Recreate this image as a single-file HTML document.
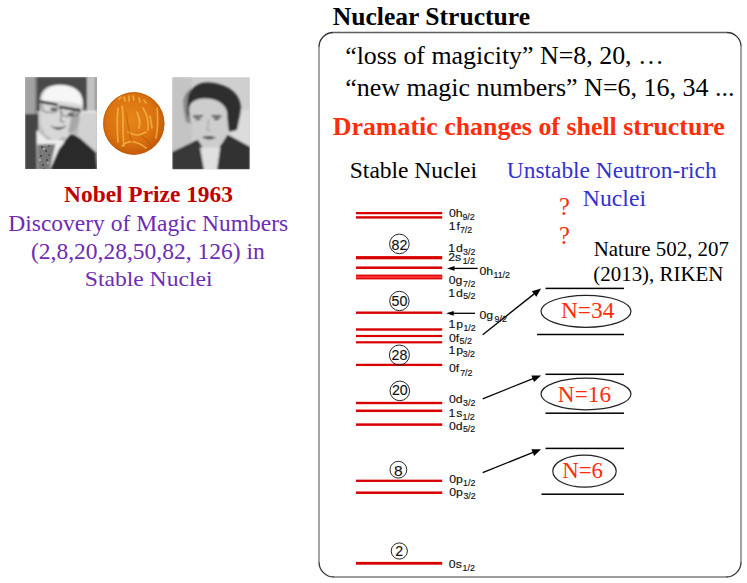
<!DOCTYPE html>
<html><head><meta charset="utf-8"><title>Nuclear Structure</title>
<style>
html,body{margin:0;padding:0;background:#fff;}
body{width:747px;height:583px;overflow:hidden;position:relative;}
svg{position:absolute;left:0;top:0;}
svg .s{font-family:'Liberation Sans',Arial,sans-serif;fill:#111;stroke:#111;stroke-width:0.15px;}
</style></head><body>
<svg width="747" height="583" viewBox="0 0 747 583">
<g fill="none">
<path d="M333.5 32.5 H727" stroke="#5e5e5e" stroke-width="1.5"/>
<path d="M741 46.5 V562" stroke="#9a9a9a" stroke-width="1.8"/>
<path d="M726 577 H334" stroke="#9c9c9c" stroke-width="1.8"/>
<path d="M319 562 V47" stroke="#9a9a9a" stroke-width="1.8"/>
<path d="M727 32.5 A14 14 0 0 1 741 46.5 M741 562 A15 15 0 0 1 726 577 M334 577 A15 15 0 0 1 319 562 M319 47 A14.5 14.5 0 0 1 333.5 32.5" stroke="#333" stroke-width="1.3"/>
</g>
<defs>
<filter id="bl1" x="-10%" y="-10%" width="120%" height="120%"><feGaussianBlur stdDeviation="1.1"/></filter>
<filter id="bl2" x="-10%" y="-10%" width="120%" height="120%"><feGaussianBlur stdDeviation="0.6"/></filter>
<clipPath id="cp1"><rect x="25" y="77" width="72" height="92"/></clipPath>
<clipPath id="cp2"><rect x="172.3" y="77.3" width="77.5" height="92"/></clipPath>
<radialGradient id="med" cx="0.45" cy="0.42" r="0.6">
<stop offset="0" stop-color="#e6861a"/><stop offset="0.65" stop-color="#da7210"/><stop offset="1" stop-color="#c05808"/>
</radialGradient>
</defs>
<g clip-path="url(#cp1)">
<rect x="25" y="77" width="72" height="92" fill="#bdbdbd"/>
<g filter="url(#bl1)">
<rect x="25" y="77" width="12" height="40" fill="#a2a2a2"/>
<rect x="35" y="77" width="2" height="40" fill="#7c7c7c"/>
<rect x="37" y="77" width="50" height="34" fill="#4a4a4a"/>
<rect x="80" y="108" width="7" height="6" fill="#6a6a6a"/>
<rect x="87" y="77" width="8" height="42" fill="#c2c2c2"/>
<rect x="95" y="77" width="2" height="92" fill="#8e8e8e"/>
<rect x="78" y="111" width="19" height="41" fill="#d2d2d2"/><rect x="80" y="111" width="17" height="1.6" fill="#eeeeee"/>
<rect x="25" y="114" width="13" height="56" fill="#454545"/>
<path d="M40 104 C39 92 45 85 59 84.8 C72 84.6 82 90 83 101 C83.5 110 81 118 77 126 C72 134 64 140 56 140.5 C48 140 42 132 40.5 122 Z" fill="#d8d8d8"/>
<path d="M72 108 C80 110 82 118 77 128 C74 132 70 134 68 132 C70 124 72 116 72 108 Z" fill="#a8a8a8"/>
<path d="M42 99 C44 89 52 85.5 60 85.3 C70 85.3 79 89 82 99 L81.5 105 C72 102 58 100 42 102 Z" fill="#f6f6f6"/>
<path d="M40 100 L57.5 103.5 L57.5 106 L40 103 Z" fill="#202020"/>
<path d="M59 105.5 L81 109 L80.5 111.8 L59 108.2 Z" fill="#202020"/>
<path d="M41.5 104 L43 111 C47 113 54 113 57 111 L57.5 105.5" fill="none" stroke="#555" stroke-width="1"/>
<path d="M60 108 L61.5 115 C67 117 74 117 79 114 L80 111" fill="none" stroke="#555" stroke-width="1"/>
<ellipse cx="53.5" cy="109.2" rx="3.2" ry="1.6" fill="#505050"/>
<ellipse cx="70.6" cy="114" rx="3" ry="1.6" fill="#505050"/>
<path d="M62 111 L60.5 121 L64.5 122.5" fill="none" stroke="#8a8a8a" stroke-width="1.4"/>
<path d="M50.5 125.5 C55 128 61 128 66.5 125.5 C62 131 55 131 50.5 125.5 Z" fill="#303030"/>
<path d="M47 136 C52 141 60 141 64 136 L63 143 L48 143 Z" fill="#a6a6a6"/>
<path d="M36.5 130 L47 139.5 L63 140 L66 146 L58 162 L52 170 L37 170 Z" fill="#ececec"/>
<path d="M37.5 144.5 L55.5 144 L49.5 170 L37.5 170 Z" fill="#787878"/>
<path d="M49.8 170 L58.7 149.7 L70.6 133.9 L79.5 137.8 L95.4 151.7 L97 170 Z" fill="#2a2a2a"/>
</g>
<g filter="url(#bl2)" fill="#3a3a3a">
<circle cx="42" cy="147" r="0.9"/><circle cx="46" cy="151" r="0.9"/><circle cx="41" cy="156" r="0.9"/><circle cx="47" cy="160" r="0.9"/><circle cx="43" cy="165" r="0.9"/><circle cx="49" cy="146" r="0.8"/><circle cx="49" cy="155" r="0.8"/><circle cx="44" cy="169" r="0.8"/>
</g>
<g filter="url(#bl2)" fill="#e8e8e8"><circle cx="44" cy="149" r="0.7"/><circle cx="48" cy="163" r="0.7"/><circle cx="40" cy="160" r="0.7"/></g>
</g>
<ellipse cx="133.8" cy="123.5" rx="30.6" ry="31.2" fill="url(#med)"/>
<g filter="url(#bl2)" fill="none" stroke-linecap="round">
<g stroke="#f6b848" stroke-width="1.7" opacity="0.75">
<path d="M119 99 L121 97 M124 97 L125 101 M129 96 L129 101 M133 96 L134 100 M139 98 L140 102 M144 100 L146 103"/>
<path d="M118 108 C117 118 117 130 118 142"/>
<path d="M122 106 C124 118 122 130 124 146"/>
<path d="M137 112 C139 118 141 122 139 128"/>
<path d="M143 108 C147 114 149 120 148 130"/>
<path d="M150 116 L152 128"/>
<path d="M157 108 C158 118 158 128 156 138"/>
<path d="M128 132 C134 136 140 136 146 132"/>
<path d="M122 146 C128 140 136 140 146 148"/>
</g>
<g stroke="#b85a08" stroke-width="1.2" opacity="0.6">
<path d="M126 112 C128 122 128 132 132 142"/>
<path d="M142 136 C146 140 150 142 152 148"/>
</g>
</g>
<ellipse cx="133.8" cy="123.5" rx="30.2" ry="30.8" fill="none" stroke="#c05c08" stroke-width="1" opacity="0.8"/>
<g clip-path="url(#cp2)">
<rect x="172" y="77" width="78" height="93" fill="#cfcfcf"/>
<g filter="url(#bl1)">
<rect x="172" y="77" width="20" height="80" fill="#c4c4c4"/>
<rect x="228" y="110" width="22" height="40" fill="#dcdcdc"/>
<path d="M183 100 C185 92 190 88 196 87 L192 124 L186 122 C184 114 183 106 183 100 Z" fill="#8a8a8a"/>
<path d="M188 96 C192 86 200 82 208 82.5 C218 83 228 86 234 92 C241 99 242 108 240 116 L237 130 L229 132 L226 112 C222 104 214 100 206 99 C198 98 192 102 190 110 L189 118 L187 112 Z" fill="#2e2e2e"/>
<path d="M189 110 C189 102 196 98 206 98.5 C216 99 225 103 227 112 L228 128 C227 140 220 148 210 148.5 C200 148 193 140 192 130 Z" fill="#cdcdcd"/>
<path d="M193 116.5 L203 115.8 M211.7 116 L221.3 116.5" stroke="#3c3c3c" stroke-width="1.8"/>
<ellipse cx="198" cy="119" rx="3" ry="1.3" fill="#5a5a5a"/>
<ellipse cx="216.5" cy="119" rx="3" ry="1.3" fill="#5a5a5a"/>
<path d="M209 119 L207 130 L211 131" fill="none" stroke="#a0a0a0" stroke-width="1.1"/>
<path d="M202 137 C206 136 212 136 216 137.5 C212 140 206 140 202 137 Z" fill="#3a3a3a"/>
<path d="M172 152 L197.8 139.8 L203 148 L205 170 L172 170 Z" fill="#383838"/>
<path d="M227.7 134.5 L250 146.8 L250 170 L216 170 L219 148 Z" fill="#323232"/>
<path d="M200 147.5 L220.2 147.5 L217 170 L204 170 Z" fill="#e0e0e0"/>
</g>
</g>

<text x="332.74" y="24.8" transform="translate(0 24.8) scale(1 0.98) translate(0 -24.8)" font-family="'Liberation Serif','Times New Roman',serif" font-size="25.6" font-weight="bold" fill="#000">Nuclear Structure</text>
<text x="345.16" y="64.2" font-family="'Liberation Serif','Times New Roman',serif" font-size="25.9" font-weight="normal" fill="#000">“loss of magicity” N=8, 20, …</text>
<text x="345.16" y="96.0" font-family="'Liberation Serif','Times New Roman',serif" font-size="26.0" font-weight="normal" fill="#000">“new magic numbers” N=6, 16, 34 ...</text>
<text x="332.74" y="135.1" font-family="'Liberation Serif','Times New Roman',serif" font-size="25.9" font-weight="bold" fill="#ff2d0a">Dramatic changes of shell structure</text>
<text x="349.79" y="177.8" transform="translate(0 177.8) scale(1 0.95) translate(0 -177.8)" font-family="'Liberation Serif','Times New Roman',serif" font-size="23.5" font-weight="normal" fill="#000">Stable Nuclei</text>
<text x="506.83" y="177.6" transform="translate(0 177.6) scale(1 0.95) translate(0 -177.6)" font-family="'Liberation Serif','Times New Roman',serif" font-size="23.4" font-weight="normal" fill="#3232d2">Unstable Neutron-rich</text>
<text x="582.83" y="205.8" transform="translate(0 205.8) scale(1 0.95) translate(0 -205.8)" font-family="'Liberation Serif','Times New Roman',serif" font-size="23.7" font-weight="normal" fill="#3232d2">Nuclei</text>
<text x="559.07" y="214.5" font-family="'Liberation Serif','Times New Roman',serif" font-size="24.5" font-weight="normal" fill="#ff2d0a">?</text>
<text x="559.07" y="244.2" font-family="'Liberation Serif','Times New Roman',serif" font-size="24.5" font-weight="normal" fill="#ff2d0a">?</text>
<text x="593.78" y="256.0" font-family="'Liberation Serif','Times New Roman',serif" font-size="20.9" font-weight="normal" fill="#000">Nature 502, 207</text>
<text x="593.36" y="281.0" font-family="'Liberation Serif','Times New Roman',serif" font-size="20.9" font-weight="normal" fill="#000">(2013), RIKEN</text>
<text x="64.07" y="201.7" transform="translate(0 201.7) scale(1 0.96) translate(0 -201.7)" font-family="'Liberation Serif','Times New Roman',serif" font-size="23.4" font-weight="bold" fill="#c00000">Nobel Prize 1963</text>
<text x="8.33" y="231.0" transform="translate(0 231.0) scale(1 0.98) translate(0 -231.0)" font-family="'Liberation Serif','Times New Roman',serif" font-size="23.5" font-weight="normal" fill="#6c2cb4">Discovery of Magic Numbers</text>
<text x="31.06" y="259.0" font-family="'Liberation Serif','Times New Roman',serif" font-size="23.5" font-weight="normal" fill="#6c2cb4">(2,8,20,28,50,82, 126) in</text>
<text x="84.78" y="286.5" transform="translate(0 286.5) scale(1 0.92) translate(0 -286.5)" font-family="'Liberation Serif','Times New Roman',serif" font-size="23.6" font-weight="normal" fill="#6c2cb4">Stable Nuclei</text>
<text x="560.93" y="318.0" font-family="'Liberation Serif','Times New Roman',serif" font-size="23.4" font-weight="normal" fill="#ff2d0a">N=34</text>
<text x="557.83" y="401.5" font-family="'Liberation Serif','Times New Roman',serif" font-size="23.3" font-weight="normal" fill="#ff2d0a">N=16</text>
<text x="562.24" y="477.6" font-family="'Liberation Serif','Times New Roman',serif" font-size="22.8" font-weight="normal" fill="#ff2d0a">N=6</text>
<text class="s" transform="translate(449.03 217.20000000000002) scale(1.06 1.0)" font-size="11.6">0h</text>
<text class="s" transform="translate(462.45 219.7) scale(1.05 1.0)" font-size="8.4">9/2</text>
<text class="s" transform="translate(448.74 229.6) scale(1.06 1.0)" font-size="11.6">1<tspan dx="0.9">f</tspan></text>
<text class="s" transform="translate(459.96 232.8) scale(1.05 1.0)" font-size="8.4">7/2</text>
<text class="s" transform="translate(448.24 252.4) scale(1.06 1.0)" font-size="11.6">1<tspan dx="0.9">d</tspan></text>
<text class="s" transform="translate(463.04 255.0) scale(1.05 1.0)" font-size="8.4">3/2</text>
<text class="s" transform="translate(448.19 260.7) scale(1.06 1.0)" font-size="11.6">2s</text>
<text class="s" transform="translate(462.68 263.8) scale(1.05 1.0)" font-size="8.4">1/2</text>
<text class="s" transform="translate(479.43 274.9) scale(1.06 1.0)" font-size="11.6">0h</text>
<text class="s" transform="translate(493.38 277.7) scale(1.05 1.0)" font-size="8.4">11/2</text>
<text class="s" transform="translate(448.73 283.79999999999995) scale(1.06 1.0)" font-size="11.6">0g</text>
<text class="s" transform="translate(463.06 286.6) scale(1.05 1.0)" font-size="8.4">7/2</text>
<text class="s" transform="translate(448.24 296.59999999999997) scale(1.06 1.0)" font-size="11.6">1<tspan dx="0.9">d</tspan></text>
<text class="s" transform="translate(463.15 299.2) scale(1.05 1.0)" font-size="8.4">5/2</text>
<text class="s" transform="translate(479.43 318.9) scale(1.06 1.0)" font-size="11.6">0g</text>
<text class="s" transform="translate(494.55 321.5) scale(1.05 1.0)" font-size="8.4">9/2</text>
<text class="s" transform="translate(448.44 327.59999999999997) scale(1.06 1.0)" font-size="11.6">1<tspan dx="0.9">p</tspan></text>
<text class="s" transform="translate(463.38 330.5) scale(1.05 1.0)" font-size="8.4">1/2</text>
<text class="s" transform="translate(448.93 341.59999999999997) scale(1.06 1.0)" font-size="11.6">0f</text>
<text class="s" transform="translate(459.55 344.2) scale(1.05 1.0)" font-size="8.4">5/2</text>
<text class="s" transform="translate(448.44 354.29999999999995) scale(1.06 1.0)" font-size="11.6">1<tspan dx="0.9">p</tspan></text>
<text class="s" transform="translate(462.74 356.5) scale(1.05 1.0)" font-size="8.4">3/2</text>
<text class="s" transform="translate(448.93 372.0) scale(1.06 1.0)" font-size="11.6">0f</text>
<text class="s" transform="translate(460.16 375.5) scale(1.05 1.0)" font-size="8.4">7/2</text>
<text class="s" transform="translate(449.03 402.5) scale(1.06 1.0)" font-size="11.6">0d</text>
<text class="s" transform="translate(463.04 405.6) scale(1.05 1.0)" font-size="8.4">3/2</text>
<text class="s" transform="translate(448.54 416.7) scale(1.06 1.0)" font-size="11.6">1<tspan dx="0.9">s</tspan></text>
<text class="s" transform="translate(462.48 419.7) scale(1.05 1.0)" font-size="8.4">1/2</text>
<text class="s" transform="translate(449.03 429.5) scale(1.06 1.0)" font-size="11.6">0d</text>
<text class="s" transform="translate(462.95 432.4) scale(1.05 1.0)" font-size="8.4">5/2</text>
<text class="s" transform="translate(449.13 483.29999999999995) scale(1.06 1.0)" font-size="11.6">0p</text>
<text class="s" transform="translate(463.08 485.7) scale(1.05 1.0)" font-size="8.4">1/2</text>
<text class="s" transform="translate(449.13 495.9) scale(1.06 1.0)" font-size="11.6">0p</text>
<text class="s" transform="translate(463.44 498.5) scale(1.05 1.0)" font-size="8.4">3/2</text>
<text class="s" transform="translate(448.83 568.1) scale(1.06 1.0)" font-size="11.6">0s</text>
<text class="s" transform="translate(462.58 570.8) scale(1.05 1.0)" font-size="8.4">1/2</text>
<rect x="356" y="211.95" width="86.2" height="2.3" fill="#d80000"/>
<rect x="356" y="216.20" width="86.2" height="2.4" fill="#d80000"/>
<rect x="356" y="256.10" width="86.2" height="3.2" fill="#d80000"/>
<rect x="356" y="266.45" width="86.2" height="2.5" fill="#d80000"/>
<rect x="356" y="274.60" width="86.2" height="4.8" fill="#d80000"/>
<rect x="356" y="275.80" width="86.2" height="2.4" fill="#ff3030"/>
<rect x="356" y="311.50" width="86.2" height="2.4" fill="#d80000"/>
<rect x="356" y="328.30" width="86.2" height="2.4" fill="#d80000"/>
<rect x="356" y="334.90" width="86.2" height="2.2" fill="#d80000"/>
<rect x="356" y="341.20" width="86.2" height="2.2" fill="#d80000"/>
<rect x="356" y="363.75" width="86.2" height="2.3" fill="#d80000"/>
<rect x="356" y="401.80" width="86.2" height="2.4" fill="#d80000"/>
<rect x="356" y="409.55" width="86.2" height="2.5" fill="#d80000"/>
<rect x="356" y="423.35" width="86.2" height="2.5" fill="#d80000"/>
<rect x="356" y="479.65" width="86.2" height="2.3" fill="#d80000"/>
<rect x="356" y="491.45" width="86.2" height="2.5" fill="#d80000"/>
<rect x="356" y="561.90" width="86.2" height="2.8" fill="#d80000"/>
<circle cx="399.4" cy="243.9" r="9.8" fill="none" stroke="#111" stroke-width="0.9"/>
<text class="s" x="399.4" y="249.8" font-size="14.2" text-anchor="middle">82</text>
<circle cx="399.4" cy="301.0" r="9.7" fill="none" stroke="#111" stroke-width="0.9"/>
<text class="s" x="399.4" y="306.2" font-size="14.2" text-anchor="middle">50</text>
<circle cx="399.4" cy="355.0" r="10.0" fill="none" stroke="#111" stroke-width="0.9"/>
<text class="s" x="399.4" y="359.9" font-size="14.2" text-anchor="middle">28</text>
<circle cx="399.8" cy="390.9" r="9.8" fill="none" stroke="#111" stroke-width="0.9"/>
<text class="s" x="399.8" y="395.0" font-size="14.2" text-anchor="middle">20</text>
<circle cx="398.4" cy="469.7" r="8.4" fill="none" stroke="#111" stroke-width="0.9"/>
<text class="s" x="398.4" y="475.6" font-size="15.5" text-anchor="middle">8</text>
<circle cx="399.3" cy="551.0" r="8.1" fill="none" stroke="#111" stroke-width="0.9"/>
<text class="s" x="399.3" y="555.8" font-size="14.2" text-anchor="middle">2</text>
<rect x="545.5" y="287.65" width="78.5" height="1.5" fill="#000"/>
<rect x="537" y="333.75" width="87" height="1.5" fill="#000"/>
<rect x="545.5" y="373.55" width="78.5" height="1.5" fill="#000"/>
<rect x="545.5" y="412.45" width="78.5" height="1.5" fill="#000"/>
<rect x="545.5" y="447.65" width="78.5" height="1.5" fill="#000"/>
<rect x="541.5" y="493.45" width="82.5" height="1.5" fill="#000"/>
<ellipse cx="586" cy="311.3" rx="45" ry="16" fill="none" stroke="#222" stroke-width="1.2"/>
<ellipse cx="586" cy="394" rx="45" ry="15.8" fill="none" stroke="#222" stroke-width="1.2"/>
<ellipse cx="584.5" cy="471.2" rx="31.7" ry="16" fill="none" stroke="#222" stroke-width="1.2"/>
<line x1="477.7" y1="268.4" x2="453.50" y2="268.40" stroke="#000" stroke-width="1.3"/><polygon points="447.00,268.40 454.50,266.00 454.50,270.80" fill="#000"/>
<line x1="475" y1="313.3" x2="452.70" y2="313.30" stroke="#000" stroke-width="1.3"/><polygon points="446.20,313.30 453.70,310.90 453.70,315.70" fill="#000"/>
<line x1="482.7" y1="334.8" x2="534.84" y2="293.38" stroke="#000" stroke-width="1.3"/><polygon points="541.10,288.40 536.29,296.82 531.81,291.18" fill="#000"/>
<line x1="482.7" y1="398.8" x2="533.67" y2="378.38" stroke="#000" stroke-width="1.3"/><polygon points="541.10,375.40 534.08,382.09 531.41,375.41" fill="#000"/>
<line x1="482.7" y1="472.6" x2="533.67" y2="452.18" stroke="#000" stroke-width="1.3"/><polygon points="541.10,449.20 534.08,455.89 531.41,449.21" fill="#000"/>
</svg>
</body></html>
